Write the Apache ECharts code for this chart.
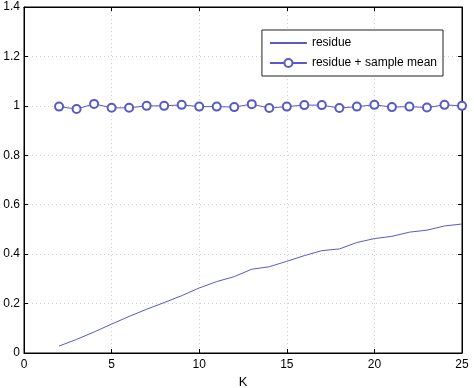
<!DOCTYPE html>
<html><head><meta charset="utf-8">
<script src="https://cdn.jsdelivr.net/npm/echarts@6/dist/echarts.min.js"></script>
<style>html,body{margin:0;padding:0;background:#fff}#c{width:474px;height:388px}</style>
</head><body><div id="c"></div>
<script>
var kValues = [2,3,4,5,6,7,8,9,10,11,12,13,14,15,16,17,18,19,20,21,22,23,24,25];
var residue = [0.028,0.055,0.085,0.117,0.148,0.177,0.204,0.232,0.263,0.289,0.309,0.339,0.349,0.371,0.394,0.414,0.421,0.447,0.463,0.472,0.489,0.497,0.514,0.522];
var residuePlusMean = [0.997,0.987,1.008,0.992,0.992,1.0,1.0,1.004,0.997,0.997,0.995,1.007,0.991,0.997,1.003,1.003,0.991,0.997,1.004,0.995,0.997,0.993,1.004,1.0];
var seriesNames = ['residue','residue + sample mean'];
var xTitle = 'K';

var chart = echarts.init(document.getElementById('c'));
var font = 'Liberation Sans, Arial, sans-serif';
var col = '#5a5ac6';
function pairs(ys){return kValues.map(function(k,i){return [k,ys[i]];});}
var split = {show:true,lineStyle:{color:'#cfcfcf',type:[1,3],width:1}};
chart.setOption({
  animation:false,
  backgroundColor:'#fff',
  grid:{left:24,right:12,top:7,bottom:35,outerBoundsMode:'none',containLabel:false,show:true,borderColor:'#000',borderWidth:1,backgroundColor:'transparent'},
  legend:{
    right:31,top:30,orient:'vertical',
    backgroundColor:'#fff',borderColor:'#222',borderWidth:1,
    padding:[7,6,7,7],itemGap:8,itemWidth:37,itemHeight:10,
    textStyle:{fontFamily:font,fontSize:12,color:'#000',padding:[0,0,0,0]},
    data:[{name:seriesNames[0],itemStyle:{opacity:0}},{name:seriesNames[1]}]
  },
  xAxis:[{
    type:'value',min:0,max:25,interval:5,position:'bottom',
    name:xTitle,nameLocation:'middle',nameGap:23,
    nameTextStyle:{fontFamily:font,fontSize:13,color:'#000'},
    axisLine:{show:true,onZero:false,lineStyle:{color:'#000'}},
    axisTick:{show:true,inside:true,length:4,lineStyle:{color:'#000'}},
    axisLabel:{fontFamily:font,fontSize:12,color:'#000',margin:6},
    splitLine:split
  },{
    type:'value',min:0,max:25,interval:5,position:'top',
    axisLine:{show:true,onZero:false,lineStyle:{color:'#000'}},
    axisTick:{show:true,inside:true,length:4,lineStyle:{color:'#000'}},
    axisLabel:{show:false},splitLine:{show:false}
  }],
  yAxis:[{
    type:'value',min:0,max:1.4,interval:0.2,position:'left',
    axisLine:{show:true,onZero:false,lineStyle:{color:'#000'}},
    axisTick:{show:true,inside:true,length:4,lineStyle:{color:'#000'}},
    axisLabel:{fontFamily:font,fontSize:12,color:'#000',margin:4,
      formatter:function(v){return String(Math.round(v*10)/10);}},
    splitLine:split
  },{
    type:'value',min:0,max:1.4,interval:0.2,position:'right',
    axisLine:{show:true,onZero:false,lineStyle:{color:'#000'}},
    axisTick:{show:true,inside:true,length:4,lineStyle:{color:'#000'}},
    axisLabel:{show:false},splitLine:{show:false}
  }],
  series:[{
    name:seriesNames[0],type:'line',data:pairs(residue),
    showSymbol:false,symbol:'none',
    lineStyle:{color:col,width:1},itemStyle:{color:col}
  },{
    name:seriesNames[1],type:'line',data:pairs(residuePlusMean),
    symbol:'emptyCircle',symbolSize:8,
    lineStyle:{color:col,width:1},itemStyle:{color:col,borderColor:col,borderWidth:1}
  }]
});
</script></body></html>
